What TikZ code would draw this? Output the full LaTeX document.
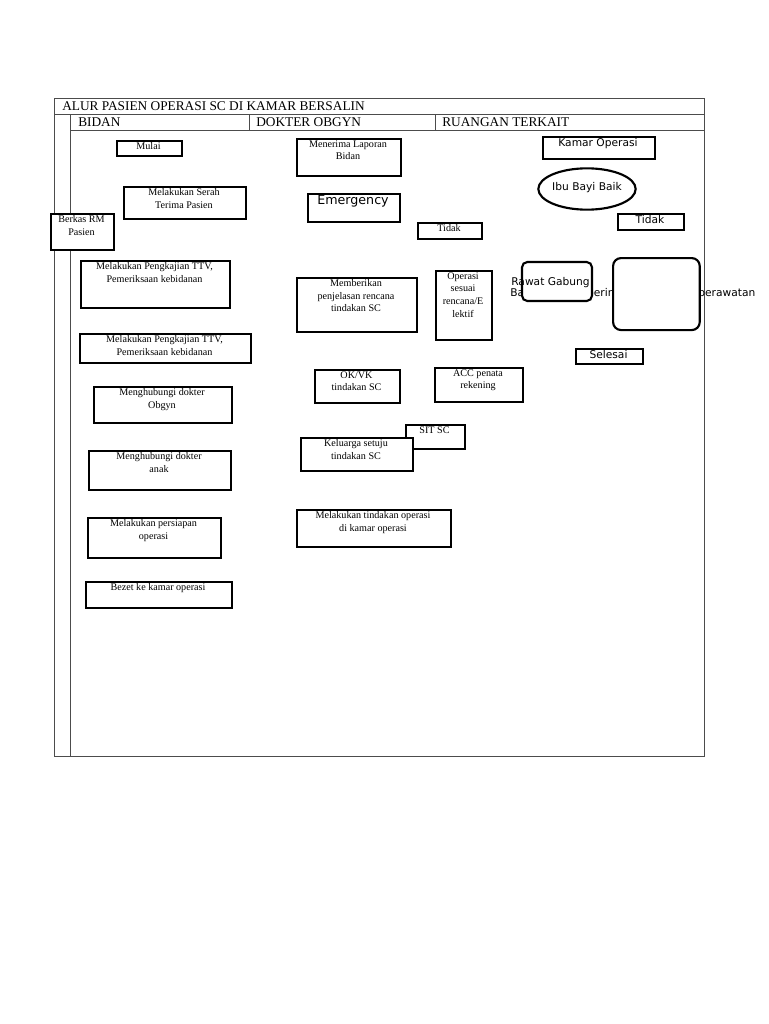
\documentclass[tikz,border=0pt]{standalone}
\usepackage{fontspec}
\setmainfont{Liberation Serif}
\newfontfamily\sansf{DejaVu Sans}
\usetikzlibrary{shapes.geometric}
\tikzset{
 box/.style={draw,line width=1.6pt,fill=white,inner sep=0pt},
 st/.style={font=\fontsize{7.6}{9.5}\selectfont},
 ss/.style={font=\sansf\fontsize{8}{9}\selectfont},
 thin/.style={draw=black!70,line width=0.6pt}
}
\newcommand\bx[7][st]{%
 \pgfmathsetmacro\bw{(#5-#3)*0.75}\pgfmathsetmacro\bh{(#6-#4)*0.75}%
 \node[box,minimum width=\bw pt,minimum height=\bh pt,anchor=north west] (#2) at (#3,#4) {};%
 \node[#1,anchor=north,align=center,inner sep=1pt] (#2-t) at ({(#3+#5)/2},#4+1) {#7};}
\begin{document}
\begin{tikzpicture}[x=0.75pt,y=-0.75pt]
\useasboundingbox (0,0) rectangle (768,1024);
\begin{scope}
\clip (0,0) rectangle (768,1024);
% frame
\draw[thin] (54,98) rectangle (704,756);
\draw[thin] (54,114) -- (704,114);
\draw[thin] (70,114) -- (70,756);
\draw[thin] (70,130) -- (704,130);
\draw[thin] (249,114) -- (249,130);
\draw[thin] (435,114) -- (435,130);
\node[font=\fontsize{10}{11}\selectfont,anchor=west,inner sep=0pt] (title) at (62,106) {ALUR PASIEN OPERASI SC DI KAMAR BERSALIN};
\node[font=\fontsize{10}{11}\selectfont,anchor=west,inner sep=0pt] (h1) at (78,122) {BIDAN};
\node[font=\fontsize{10}{11}\selectfont,anchor=west,inner sep=0pt] (h2) at (256,122) {DOKTER OBGYN};
\node[font=\fontsize{10}{11}\selectfont,anchor=west,inner sep=0pt] (h3) at (442,122) {RUANGAN TERKAIT};
% line behind boxes
\node[ss,anchor=west,inner sep=0pt] (rg2) at (510,294) {Bayi ke ruang perina, Ibu ke ruang perawatan};
% boxes
\bx{mulai}{116}{140}{181}{155}{Mulai}
\bx{lapor}{296}{138}{400}{175}{Menerima Laporan\\Bidan}
\bx[ss]{kamar}{542}{136}{654}{158}{Kamar Operasi}
\node[draw,line width=1.6pt,fill=white,ellipse,minimum width=73pt,minimum height=31pt,inner sep=0pt] (ibu) at (587,189) {};
\node[ss] (ibu-t) at (587,188) {Ibu Bayi Baik};
\bx{serah}{123}{186}{245}{218}{Melakukan Serah\\Terima Pasien}
\bx[ss]{emerg}{307}{193}{399}{221}{\fontsize{9.5}{10}\selectfont Emergency}
\bx{berkas}{50}{213}{113}{249}{Berkas RM\\Pasien}
\bx{tidak1}{417}{222}{481}{238}{Tidak}
\bx[ss]{tidak2}{617}{213}{683}{229}{Tidak}
\bx{kaji1}{80}{260}{229}{307}{Melakukan Pengkajian TTV,\\Pemeriksaan kebidanan}
\bx{beri}{296}{277}{416}{331}{Memberikan\\penjelasan rencana\\tindakan SC}
\bx{sesuai}{435}{270}{491}{339}{Operasi\\sesuai\\rencana/E\\lektif}
\draw[box,rounded corners=4pt] (522,262) rectangle (592,301);
\coordinate (rgc) at (557,281);
\node[draw,line width=1.6pt,fill=white,rounded corners=6pt,minimum width=65pt,minimum height=54pt,anchor=north west] (big) at (612,257) {};
\node[ss,anchor=west,inner sep=0pt] (rg1) at (511,283) {Rawat Gabung};
\bx[ss]{selesai}{575}{348}{642}{363}{Selesai}
\bx{kaji2}{79}{333}{250}{362}{Melakukan Pengkajian TTV,\\Pemeriksaan kebidanan}
\bx{okvk}{314}{369}{399}{402}{OK/VK\\tindakan SC}
\bx{acc}{434}{367}{522}{401}{ACC penata\\rekening}
\bx{obgyn}{93}{386}{231}{422}{Menghubungi dokter\\Obgyn}
\bx{sit}{405}{424}{464}{448}{SIT SC}
\bx{kel}{300}{437}{412}{470}{Keluarga setuju\\tindakan SC}
\bx{anak}{88}{450}{230}{489}{Menghubungi dokter\\anak}
\bx{tind}{296}{509}{450}{546}{Melakukan tindakan operasi\\di kamar operasi}
\bx{siap}{87}{517}{220}{557}{Melakukan persiapan\\operasi}
\bx{bezet}{85}{581}{231}{607}{Bezet ke kamar operasi}
\end{scope}
\end{tikzpicture}
\end{document}
